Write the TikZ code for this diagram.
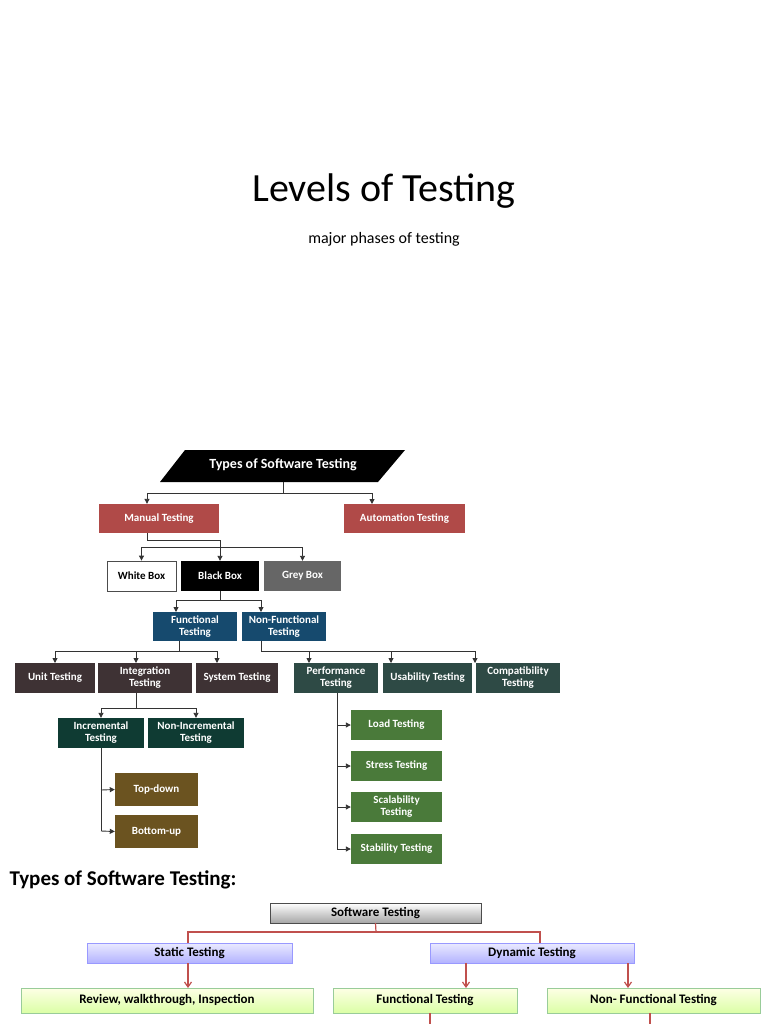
\documentclass[tikz,border=0pt]{standalone}
\usepackage{fontspec}
\setmainfont{Carlito}
\usetikzlibrary{shapes.geometric,arrows.meta}
\definecolor{mred}{HTML}{B04A48}
\definecolor{fblue}{HTML}{164A6E}
\definecolor{dbrown}{HTML}{3E3234}
\definecolor{dteal}{HTML}{2E4A45}
\definecolor{dgreen}{HTML}{0F3B33}
\definecolor{olive}{HTML}{6B5320}
\definecolor{lgreen}{HTML}{4A7A3A}
\definecolor{rline}{HTML}{C0504D}
\tikzset{
 bx/.style={draw=none,text=white,font=\fontsize{11}{12}\selectfont\bfseries,align=center,inner sep=0pt},
 ar/.style={-{Triangle[length=5pt,width=5pt]},draw=black!80,line width=0.9pt},
 ln/.style={draw=black!80,line width=0.9pt},
 rr/.style={-{Straight Barb[length=5pt,width=7pt]},draw=rline,line width=1.2pt},
 rl/.style={draw=rline,line width=1.2pt},
 bbx/.style={draw=black!70,font=\fontsize{13}{14}\selectfont\bfseries,inner sep=0pt,align=center},
}
\newcommand{\B}[6]{\node[bx,fill=#6,minimum width=#3-#2,minimum height=#5-#4] (#1) at ({(#2+#3)/2},{(#4+#5)/2}) {};}
\begin{document}
\begin{tikzpicture}[x=1pt,y=-1pt]
\useasboundingbox (0,0) rectangle (768,1024);
\node[font=\fontsize{40}{44}\selectfont] (title) at (384,191) {Levels of Testing};
\node[font=\fontsize{16}{18}\selectfont] (sub) at (384,239) {major phases of testing};
% top diagram
\fill[black] (160,482) -- (185,450) -- (405,450) -- (378,482) -- cycle;
\node[text=white,font=\fontsize{14}{15}\selectfont\bfseries] (root) at (283,465) {Types of Software Testing};
\coordinate (rb) at (283,482);
\node[bx,fill=mred,minimum width=120,minimum height=29] (man) at (159,518.5) {Manual Testing};
\node[bx,fill=mred,minimum width=121,minimum height=29] (aut) at (404.5,518.5) {Automation Testing};
\draw[ln] (rb) -- (283,493);
\draw[ar] (283,493) -| (man.north-|147,0);
\draw[ar] (283,493) -| (372,504);
\node[bx,draw=black!70,line width=0.8pt,fill=white,text=black,minimum width=69,minimum height=30] (wb) at (141.5,576) {White Box};
\node[bx,fill=black,minimum width=78,minimum height=30] (bb) at (220,576) {Black Box};
\node[bx,fill=black!60,minimum width=77,minimum height=30] (gb) at (302.5,576) {Grey Box};
\draw[ln] (147,533) -- (147,540) -- (220,540);
\draw[ar] (220,540) -- (bb.north);
\draw[ar] (220,547) -| (wb.north);
\draw[ar] (220,547) -| (gb.north);
\node[bx,fill=fblue,minimum width=84,minimum height=29] (fn) at (195,626.5) {Functional\\Testing};
\node[bx,fill=fblue,minimum width=84,minimum height=29] (nf) at (284,626.5) {Non-Functional\\Testing};
\draw[ln] (bb.south) -- (220,600);
\draw[ar] (220,600) -| (176,612);
\draw[ar] (220,600) -| (261,612);
\node[bx,fill=dbrown,minimum width=80,minimum height=30] (unit) at (55,678) {Unit Testing};
\node[bx,fill=dbrown,minimum width=94,minimum height=30] (integ) at (145,678) {Integration\\Testing};
\node[bx,fill=dbrown,minimum width=82,minimum height=30] (sys) at (237,678) {System Testing};
\draw[ln] (179,641) -- (179,651);
\draw[ar] (179,651) -| (55,663);
\draw[ar] (136,651) -- (136,663);
\draw[ar] (179,651) -| (217,663);
\node[bx,fill=dteal,minimum width=84,minimum height=30] (perf) at (336,678) {Performance\\Testing};
\node[bx,fill=dteal,minimum width=89,minimum height=30] (usa) at (427.5,678) {Usability Testing};
\node[bx,fill=dteal,minimum width=84,minimum height=30] (comp) at (518,678) {Compatibility\\Testing};
\draw[ln] (261,641) -- (261,651) -- (309,651);
\draw[ar] (309,651) -- (309,663);
\draw[ar] (309,651) -| (391,663);
\draw[ar] (391,651) -| (475,663);
\node[bx,fill=dgreen,minimum width=86,minimum height=30] (inc) at (101,733) {Incremental\\Testing};
\node[bx,fill=dgreen,minimum width=96,minimum height=30] (ninc) at (196,733) {Non-Incremental\\Testing};
\draw[ln] (136,693) -- (136,708);
\draw[ar] (136,708) -| (inc.north);
\draw[ar] (136,708) -| (ninc.north);
\node[bx,fill=olive,minimum width=83,minimum height=33] (td) at (156.5,789.5) {Top-down};
\node[bx,fill=olive,minimum width=83,minimum height=33] (bu) at (156.5,831.5) {Bottom-up};
\draw[ln] (inc.south) -- (101,831);
\draw[ar] (101,790) -- (td.west);
\draw[ar] (101,831) -- (bu.west);
\node[bx,fill=lgreen,minimum width=91,minimum height=30] (load) at (396.5,725) {Load Testing};
\node[bx,fill=lgreen,minimum width=91,minimum height=30] (str) at (396.5,766) {Stress Testing};
\node[bx,fill=lgreen,minimum width=91,minimum height=30] (scal) at (396.5,807) {Scalability\\Testing};
\node[bx,fill=lgreen,minimum width=91,minimum height=30] (stab) at (396.5,849) {Stability Testing};
\draw[ln] (337,693) -- (337,849);
\draw[ar] (337,725) -- (load.west);
\draw[ar] (337,766) -- (str.west);
\draw[ar] (337,807) -- (scal.west);
\draw[ar] (337,849) -- (stab.west);
% bottom diagram
\node[anchor=west,font=\fontsize{21}{23}\selectfont\bfseries] (t2) at (6,880) {Types of Software Testing:};
\node[bbx,top color=white,bottom color=black!35,minimum width=211,minimum height=20] (st) at (375.5,913) {Software Testing};
\node[bbx,draw=blue!40,top color=blue!8,bottom color=blue!30,minimum width=205,minimum height=20] (sta) at (189.5,953) {Static Testing};
\node[bbx,draw=blue!40,top color=blue!8,bottom color=blue!30,minimum width=204,minimum height=20] (dyn) at (532,953) {Dynamic Testing};
\draw[rl] (st.south) -- (376,932);
\draw[rl] (188,943) |- (540,932) -- (540,943);
\node[bbx,draw=green!50!black!40,top color=green!5!yellow!10,bottom color=green!40!yellow!35,minimum width=292,minimum height=25] (rev) at (167,1000.5) {Review, walkthrough, Inspection};
\node[bbx,draw=green!50!black!40,top color=green!5!yellow!10,bottom color=green!40!yellow!35,minimum width=184,minimum height=25] (ft) at (425,1000.5) {Functional Testing};
\node[bbx,draw=green!50!black!40,top color=green!5!yellow!10,bottom color=green!40!yellow!35,minimum width=213,minimum height=25] (nft) at (653.5,1000.5) {Non- Functional Testing};
\draw[rr] (188,963) -- (188,988);
\draw[rr] (466,963) -- (466,988);
\draw[rr] (628,963) -- (628,988);
\draw[rl] (430,1013) -- (430,1024);
\draw[rl] (650,1013) -- (650,1024);
\end{tikzpicture}
\end{document}
